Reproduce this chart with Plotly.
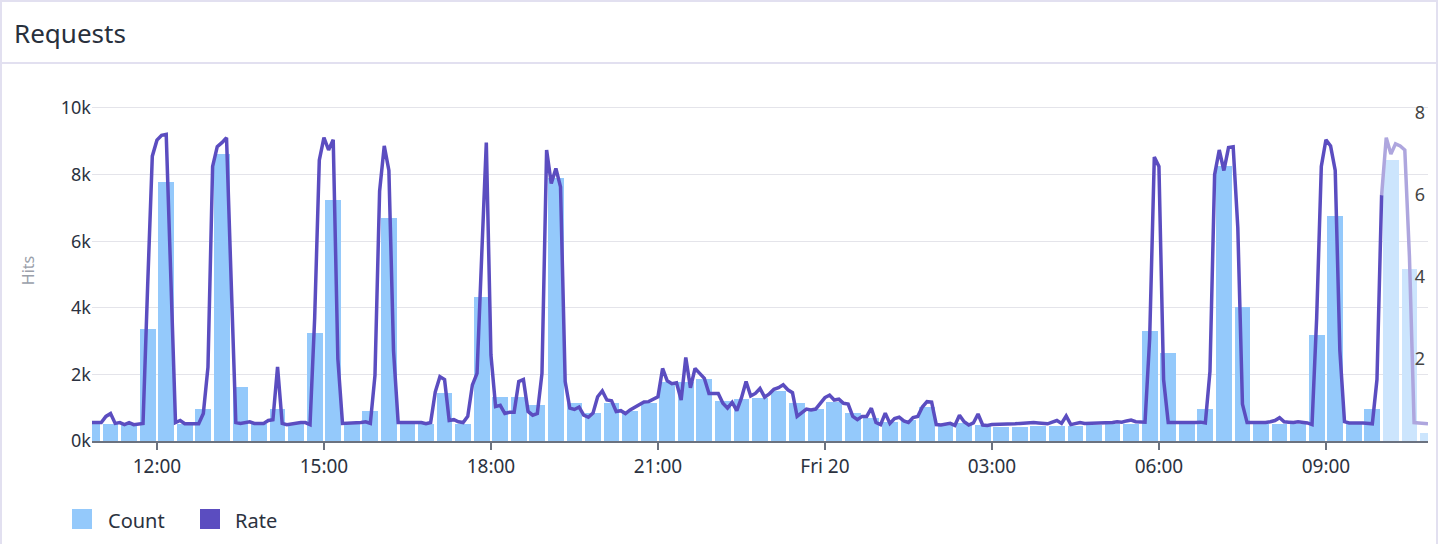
import pandas as pd
import plotly.graph_objects as go

# Count per 20-min bin (thousands), bins starting 10:40 Thu 19
count_k = [0.53, 0.5, 0.5, 3.36, 7.78, 0.5, 0.96, 8.63, 1.63, 0.5, 0.96, 0.5,
           3.23, 7.23, 0.5, 0.9, 6.69, 0.5, 0.5, 1.43, 0.5, 4.32, 1.33, 1.33,
           1.08, 7.9, 1.13, 0.85, 1.15, 0.91, 1.15, 1.76, 1.76, 1.86, 1.21, 1.25,
           1.28, 1.51, 1.13, 0.95, 1.18, 0.85, 0.68, 0.58, 0.63, 1.03, 0.48, 0.53,
           0.48, 0.43, 0.43, 0.45, 0.45, 0.45, 0.47, 0.5, 0.52, 3.31, 2.65, 0.5,
           0.96, 8.25, 4.03, 0.5, 0.5, 0.5, 3.18, 6.75, 0.5, 0.96, 8.43, 5.16, 0.25]
n_partial_bins = 3

# Rate per 5-min point, starting 10:50 Thu 19
rate = [0.45,0.45,0.45,0.6,0.67,0.43,0.45,0.4,0.45,0.4,0.42,0.43,
        3.8,6.95,7.34,7.46,7.48,4.0,0.45,0.5,0.42,0.42,0.42,0.42,
        0.67,1.8,6.7,7.18,7.28,7.4,3.9,0.45,0.43,0.45,0.47,0.43,
        0.43,0.43,0.5,0.52,1.81,0.43,0.4,0.42,0.45,0.45,0.45,0.4,
        3.0,6.85,7.4,7.1,7.35,2.0,0.43,0.43,0.43,0.45,0.45,0.47,
        0.43,1.6,6.1,7.2,6.6,2.2,0.45,0.45,0.45,0.45,0.45,0.45,
        0.42,0.45,1.2,1.57,1.5,0.5,0.52,0.47,0.45,0.6,1.37,1.65,
        4.5,7.28,2.1,0.84,0.87,0.67,0.7,0.7,1.45,1.5,0.72,0.63,
        0.67,1.65,7.1,6.28,6.65,6.2,1.45,0.8,0.77,0.83,0.63,0.58,
        0.68,1.08,1.22,1.0,0.98,0.72,0.74,0.67,0.76,0.83,0.88,0.95,
        0.96,1.02,1.08,1.77,1.47,1.4,1.42,1.0,2.04,1.3,1.77,1.65,
        1.53,1.16,1.16,1.16,0.92,0.8,0.94,0.74,1.05,1.45,1.1,1.16,
        1.28,1.07,1.15,1.26,1.3,1.37,1.25,1.18,0.6,0.7,0.78,0.76,
        0.78,0.92,1.06,1.12,1.0,1.02,0.92,0.9,0.6,0.52,0.6,0.6,
        0.8,0.45,0.4,0.68,0.43,0.55,0.58,0.49,0.45,0.57,0.6,0.83,
        0.96,0.95,0.4,0.39,0.42,0.43,0.38,0.63,0.47,0.39,0.44,0.66,
        0.39,0.38,0.4,0.4,0.4,0.4,0.41,0.42,0.43,0.44,0.45,0.45,
        0.44,0.44,0.42,0.46,0.5,0.43,0.61,0.4,0.43,0.45,0.43,0.43,
        0.43,0.43,0.43,0.44,0.45,0.47,0.46,0.49,0.51,0.47,0.47,0.46,
        2.5,6.93,6.7,1.5,0.45,0.45,0.44,0.43,0.43,0.44,0.45,0.46,
        0.44,1.7,6.5,7.1,6.6,7.16,7.18,5.2,0.9,0.45,0.45,0.44,
        0.45,0.45,0.47,0.5,0.57,0.47,0.46,0.45,0.47,0.46,0.44,0.4,
        3.0,6.7,7.35,7.2,6.6,2.2,0.47,0.44,0.45,0.44,0.44,0.44,
        0.42,1.5,6.0,7.4,7.0,7.25,7.2,7.1,4.5,0.45,0.44,0.43,0.42]
rate_partial_from = 278

series_names = ["Count", "Rate"]
tick_vals = ["2024-09-19 12:00", "2024-09-19 15:00", "2024-09-19 18:00", "2024-09-19 21:00",
             "2024-09-20 00:00", "2024-09-20 03:00", "2024-09-20 06:00", "2024-09-20 09:00"]
tick_text = ["12:00", "15:00", "18:00", "21:00", "Fri 20", "03:00", "06:00", "09:00"]
left_ticks = [0, 2000, 4000, 6000, 8000, 10000]
left_text = ["0k", "2k", "4k", "6k", "8k", "10k"]

bins = pd.date_range("2024-09-19 10:40", periods=len(count_k), freq="20min")
bar_x = bins + pd.Timedelta(minutes=10)
counts = [c * 1000 for c in count_k]
rt = pd.date_range("2024-09-19 10:50", periods=len(rate), freq="5min")

BLUE = "#94c9fb"
BLUE_L = "#cce5fd"
PURP = "#5b4dc0"
PURP_L = "#aea6de"
nb = len(counts) - n_partial_bins
bar_colors = [BLUE] * nb + [BLUE_L] * n_partial_bins

fig = go.Figure()
fig.add_bar(x=bar_x, y=counts, marker_color=bar_colors, marker_line_width=0,
            width=17 * 60 * 1000, showlegend=False, hoverinfo="skip")
fig.add_scatter(x=rt[:rate_partial_from + 1], y=rate[:rate_partial_from + 1], yaxis="y2",
                mode="lines", line=dict(color=PURP, width=3.5), showlegend=False)
fig.add_scatter(x=rt[rate_partial_from:], y=rate[rate_partial_from:], yaxis="y2",
                mode="lines", line=dict(color=PURP_L, width=3.5), showlegend=False)

W, H = 1438, 544
L, R, T, B = 92, 10, 100, 103
pw, ph = W - L - R, H - T - B

def px(x):
    return (x - L) / pw

def py(y):
    return (H - B - y) / ph

shapes = [dict(type="line", xref="paper", yref="paper", x0=px(0), x1=px(W),
               y0=py(63), y1=py(63), line=dict(color="#e2e0f0", width=2)),
          dict(type="rect", xref="paper", yref="paper", x0=px(1), x1=px(W - 1),
               y0=py(1), y1=py(H + 5), line=dict(color="#e2e0f0", width=2))]
annotations = [dict(text="Requests", x=px(12), y=py(33), xref="paper", yref="paper",
                    xanchor="left", yanchor="middle", showarrow=False,
                    font=dict(size=26, color="#28303c"))]
for (sx, tx), name, col in zip([(72, 106), (200, 233)], series_names, [BLUE, PURP]):
    shapes.append(dict(type="rect", xref="paper", yref="paper", x0=px(sx), x1=px(sx + 20),
                       y0=py(509), y1=py(529), fillcolor=col, line=dict(width=0)))
    annotations.append(dict(text=name, x=px(tx), y=py(520), xref="paper", yref="paper",
                            xanchor="left", yanchor="middle", showarrow=False,
                            font=dict(size=20, color="#2b3240")))

fig.update_layout(
    width=W, height=H, margin=dict(l=L, r=R, t=T, b=B),
    paper_bgcolor="white", plot_bgcolor="white", showlegend=False,
    font=dict(family="Noto Sans, Roboto, sans-serif", size=18, color="#2b3240"),
    bargap=0,
    xaxis=dict(range=["2024-09-19 10:50", "2024-09-20 10:50"], tickvals=tick_vals,
               ticktext=tick_text, showgrid=False, showline=True, linecolor="#6b7280",
               linewidth=2, ticks="outside", ticklen=7, tickcolor="#6b7280", tickwidth=2,
               tickfont=dict(size=19)),
    yaxis=dict(range=[0, 10240], tickvals=left_ticks, ticktext=left_text,
               gridcolor="#e4e4ea", gridwidth=1, zeroline=False,
               title=dict(text="Hits", font=dict(size=16, color="#9aa0aa"), standoff=22),
               tickfont=dict(size=18)),
    yaxis2=dict(range=[0, 8.32], overlaying="y", side="right", tickvals=[0, 2, 4, 6, 8],
                showgrid=False, zeroline=False, ticklabelposition="inside",
                tickfont=dict(size=18)),
    annotations=annotations, shapes=shapes,
)
fig.write_html("out.html", config={"displayModeBar": False},
               post_script="document.body.style.margin='0';document.body.style.overflow='hidden';")
